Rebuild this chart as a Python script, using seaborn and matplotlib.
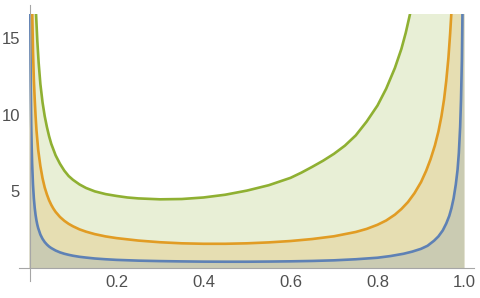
import numpy as np
import pandas as pd
import matplotlib
matplotlib.use("Agg")
import matplotlib.pyplot as plt
import seaborn as sns
from matplotlib.patches import Rectangle
from matplotlib.ticker import MultipleLocator, FixedLocator

# ---- data ----
blue_x = [0.0, 0.0015, 0.002, 0.0025, 0.003, 0.004, 0.005, 0.006, 0.008, 0.01, 0.012,
          0.014, 0.016, 0.018, 0.02, 0.025, 0.03, 0.035, 0.04, 0.045, 0.05, 0.06, 0.07,
          0.08, 0.09, 0.1, 0.115, 0.13, 0.15, 0.175, 0.2, 0.25, 0.3, 0.35, 0.4, 0.45,
          0.5, 0.55, 0.6, 0.65, 0.7, 0.75, 0.8, 0.83, 0.86, 0.88, 0.9, 0.915, 0.93,
          0.94, 0.95, 0.958, 0.965, 0.97, 0.975, 0.98, 0.984, 0.987, 0.99, 0.992,
          0.994, 0.995, 0.996, 0.997, 1.0]
blue_y = [40, 19, 15.8, 13.4, 11.7, 9.3, 7.9, 6.85, 5.45, 4.55, 3.92,
          3.45, 3.1, 2.82, 2.6, 2.18, 1.9, 1.69, 1.53, 1.4, 1.3, 1.14, 1.02,
          0.93, 0.86, 0.80, 0.73, 0.68, 0.62, 0.57, 0.53, 0.48, 0.45, 0.43, 0.415, 0.41,
          0.41, 0.42, 0.435, 0.46, 0.50, 0.57, 0.67, 0.78, 0.93, 1.07, 1.25, 1.45, 1.78,
          2.06, 2.45, 2.9, 3.4, 3.9, 4.55, 5.45, 6.4, 7.5, 9.2, 11.0,
          13.6, 15.8, 18.5, 22, 40]

orange_x = [0.0, 0.005, 0.0065, 0.008, 0.01, 0.012, 0.014, 0.016, 0.02, 0.025, 0.03,
            0.035, 0.04, 0.045, 0.05, 0.055, 0.06, 0.07, 0.08, 0.09, 0.1, 0.115, 0.13,
            0.15, 0.175, 0.2, 0.25, 0.3, 0.35, 0.4, 0.45, 0.5, 0.55, 0.6, 0.65, 0.7,
            0.75, 0.775, 0.8, 0.82, 0.84, 0.855, 0.87, 0.885, 0.9, 0.912, 0.922, 0.932,
            0.94, 0.947, 0.953, 0.958, 0.963, 0.967, 0.971, 0.975, 1.0]
orange_y = [60, 19.5, 16.4, 14.2, 12.3, 11.0, 9.9, 9.0, 7.7, 6.65, 5.85,
            5.25, 4.8, 4.42, 4.12, 3.87, 3.66, 3.33, 3.08, 2.88, 2.72, 2.52, 2.37,
            2.21, 2.06, 1.95, 1.79, 1.68, 1.61, 1.58, 1.58, 1.61, 1.67, 1.76, 1.89, 2.07,
            2.35, 2.55, 2.82, 3.1, 3.48, 3.85, 4.3, 4.88, 5.6, 6.35, 7.1, 8.0,
            8.9, 9.9, 11.0, 12.2, 13.7, 15.3, 17.2, 19.5, 60]

green_x = [0.0, 0.012, 0.015, 0.018, 0.021, 0.025, 0.03, 0.035, 0.04, 0.045, 0.05, 0.06,
           0.07, 0.08, 0.09, 0.1, 0.115, 0.13, 0.15, 0.175, 0.2, 0.225, 0.25, 0.3, 0.35,
           0.4, 0.45, 0.5, 0.55, 0.6, 0.625, 0.65, 0.675, 0.7, 0.725, 0.75, 0.775, 0.8,
           0.82, 0.84, 0.855, 0.865, 0.875, 0.885, 1.0]
green_y = [60, 19.5, 16.6, 14.8, 13.4, 12.0, 10.8, 9.9, 9.2, 8.6, 8.1, 7.35,
           6.8, 6.35, 6.0, 5.75, 5.45, 5.22, 5.0, 4.82, 4.7, 4.6, 4.54, 4.48, 4.5,
           4.6, 4.78, 5.05, 5.4, 5.88, 6.22, 6.6, 7.0, 7.45, 7.98, 8.65, 9.55, 10.6,
           11.7, 13.05, 14.3, 15.35, 16.6, 18.0, 60]

series_names = ["blue", "orange", "green"]
colors = {"blue": "#5E81B5", "orange": "#E19C24", "green": "#8FB032"}

x_major = [0.2, 0.4, 0.6, 0.8, 1.0]
x_labels = ["0.2", "0.4", "0.6", "0.8", "1.0"]
y_major = [5, 10, 15]
y_labels = ["5", "10", "15"]

# ---- build table ----
df = pd.concat([
    pd.DataFrame({"x": blue_x, "y": blue_y, "series": "blue"}),
    pd.DataFrame({"x": orange_x, "y": orange_y, "series": "orange"}),
    pd.DataFrame({"x": green_x, "y": green_y, "series": "green"}),
], ignore_index=True)

sns.set_style("white")
plt.rcParams["font.family"] = ["Liberation Sans", "DejaVu Sans"]

W, H = 480, 298
fig = plt.figure(figsize=(W / 100, H / 100), dpi=100)
# pixel geometry: x=0 -> 29.5 px, x=1 -> 464.5 px ; y=0 -> 268 px, 1 unit = 15.33 px
px0, pxs = 29.5, 435.0
py0, pys = 268.0, 15.33
left_px, right_px, top_px, bot_px = 19, 474, 5, 281
ax = fig.add_axes([left_px / W, 1 - bot_px / H, (right_px - left_px) / W, (bot_px - top_px) / H])
ax.set_xlim((left_px - px0) / pxs, (right_px - px0) / pxs)
ax.set_ylim((py0 - bot_px) / pys, (py0 - top_px) / pys)
y_clip_top = (py0 - 14) / pys

clip = Rectangle((-0.5, -5), 2.0, y_clip_top + 5, transform=ax.transData,
                 facecolor="none", edgecolor="none")
ax.add_patch(clip)

for name in ["green", "orange", "blue"]:
    sub = df[df.series == name]
    f = ax.fill_between(sub.x, 0, sub.y, color=colors[name], alpha=0.2, linewidth=0)
    f.set_clip_path(clip)

sns.lineplot(data=df, x="x", y="y", hue="series", hue_order=series_names,
             palette=colors, legend=False, linewidth=1.9, ax=ax, sort=True,
             estimator=None)
for ln in ax.lines:
    ln.set_clip_path(clip)
    ln.set_solid_capstyle("butt")
    ln.set_solid_joinstyle("round")

ax.set_xlabel("")
ax.set_ylabel("")

axis_col = "#a6a6a6"
for s in ["top", "right"]:
    ax.spines[s].set_visible(False)
ax.spines["left"].set_position(("data", 0))
ax.spines["bottom"].set_position(("data", 0))
ax.spines["left"].set_color(axis_col)
ax.spines["bottom"].set_color(axis_col)
ax.spines["left"].set_linewidth(0.8)
ax.spines["bottom"].set_linewidth(0.8)

ax.xaxis.set_major_locator(FixedLocator(x_major))
ax.set_xticklabels(x_labels)
ax.xaxis.set_minor_locator(MultipleLocator(0.05))
ax.yaxis.set_major_locator(FixedLocator(y_major))
ax.set_yticklabels(y_labels)
ax.yaxis.set_minor_locator(MultipleLocator(1))

ax.tick_params(axis="both", which="major", direction="in", length=3.2, width=0.8,
               color=axis_col, labelcolor="#505050", labelsize=12)
ax.tick_params(axis="both", which="minor", direction="in", length=1.8, width=0.6,
               color=axis_col)
ax.tick_params(axis="x", which="major", pad=5)
ax.tick_params(axis="y", which="major", pad=7)
ax.set_facecolor("white")
fig.patch.set_facecolor("white")

fig.savefig("out.png", dpi=100)
